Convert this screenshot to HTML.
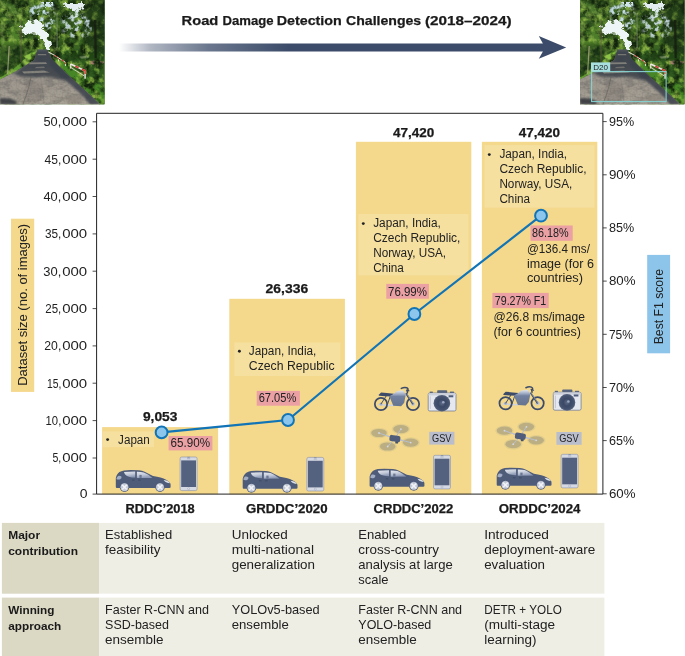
<!DOCTYPE html>
<html><head><meta charset="utf-8"><title>Road Damage Detection Challenges</title>
<style>
html,body{margin:0;padding:0;background:#fff;}
svg{display:block}
text{font-family:"Liberation Sans",sans-serif;fill:#222}
.b{font-weight:bold;fill:#1a1a1a;stroke:#1a1a1a;stroke-width:0.25px}
.b2{font-weight:bold;fill:#1a1a1a}
</style></head><body>
<svg width="685" height="656" viewBox="0 0 685 656">
<defs>
<linearGradient id="ag" gradientUnits="userSpaceOnUse" x1="119" x2="567" y1="0" y2="0">
<stop offset="0" stop-color="#3b4b69" stop-opacity="0"/>
<stop offset="0.07" stop-color="#3b4b69" stop-opacity="0.4"/>
<stop offset="0.2" stop-color="#3b4b69" stop-opacity="0.76"/>
<stop offset="0.38" stop-color="#3b4b69" stop-opacity="1"/>
</linearGradient>

<clipPath id="pc"><rect x="0" y="0" width="104.8" height="104.4"/></clipPath>
<filter id="fDark" x="0" y="0" width="100%" height="100%" color-interpolation-filters="sRGB">
<feTurbulence type="fractalNoise" baseFrequency="0.1" numOctaves="4" seed="7"/>
<feColorMatrix type="matrix" values="0 0 0 0 0.07  0 0 0 0 0.14  0 0 0 0 0.05  0 3.6 0 0 -1.55"/>
<feComposite in2="SourceGraphic" operator="in"/>
</filter>
<filter id="fLight" x="0" y="0" width="100%" height="100%" color-interpolation-filters="sRGB">
<feTurbulence type="fractalNoise" baseFrequency="0.13" numOctaves="4" seed="23"/>
<feColorMatrix type="matrix" values="0 0 0 0 0.58  0 0 0 0 0.74  0 0 0 0 0.28  3.2 0 0 0 -1.6"/>
<feComposite in2="SourceGraphic" operator="in"/>
</filter>
<filter id="fLight2" x="0" y="0" width="100%" height="100%" color-interpolation-filters="sRGB">
<feTurbulence type="fractalNoise" baseFrequency="0.17" numOctaves="3" seed="41"/>
<feColorMatrix type="matrix" values="0 0 0 0 0.62  0 0 0 0 0.74  0 0 0 0 0.36  0 0 3.2 0 -1.55"/>
<feComposite in2="SourceGraphic" operator="in"/>
</filter>
<filter id="fSky" x="-5%" y="-5%" width="110%" height="110%" color-interpolation-filters="sRGB">
<feTurbulence type="fractalNoise" baseFrequency="0.22" numOctaves="3" seed="5" result="t"/>
<feDisplacementMap in="SourceGraphic" in2="t" scale="9" xChannelSelector="R" yChannelSelector="G" result="d"/>
<feGaussianBlur in="d" stdDeviation="0.5"/>
</filter>
<filter id="fMot" x="0" y="0" width="100%" height="100%" color-interpolation-filters="sRGB">
<feTurbulence type="fractalNoise" baseFrequency="0.2" numOctaves="3" seed="9" result="t"/>
<feColorMatrix in="t" type="matrix" values="0 0 0 0 0  0 0 0 0 0  0 0 0 0 0  4.5 0 0 0 -2.1" result="m"/>
<feGaussianBlur in="SourceGraphic" stdDeviation="1.5" result="sb"/>
<feComposite in="sb" in2="m" operator="in"/>
</filter>
<filter id="fRoad" x="0" y="0" width="100%" height="100%" color-interpolation-filters="sRGB">
<feTurbulence type="fractalNoise" baseFrequency="0.09 0.2" numOctaves="3" seed="11"/>
<feColorMatrix type="matrix" values="0 0 0 0 0.16  0 0 0 0 0.17  0 0 0 0 0.19  0 0 3.4 0 -1.45"/>
<feComposite in2="SourceGraphic" operator="in"/>
</filter>
<filter id="fGrain" x="0" y="0" width="100%" height="100%" color-interpolation-filters="sRGB">
<feTurbulence type="fractalNoise" baseFrequency="0.5" numOctaves="2" seed="3"/>
<feColorMatrix type="matrix" values="0 0 0 0 0.25  0 0 0 0 0.25  0 0 0 0 0.25  0 2 0 0 -0.85"/>
<feComposite in2="SourceGraphic" operator="in"/>
</filter>
<filter id="bl1" x="-10%" y="-10%" width="120%" height="120%"><feGaussianBlur stdDeviation="1.2"/></filter>
<filter id="bl2" x="-10%" y="-10%" width="120%" height="120%"><feGaussianBlur stdDeviation="0.6"/></filter>
<linearGradient id="roadg" gradientUnits="userSpaceOnUse" x1="0" x2="0" y1="50" y2="104.5">
<stop offset="0" stop-color="#50565e"/><stop offset="0.2" stop-color="#5e6267"/><stop offset="0.48" stop-color="#9c968d"/><stop offset="1" stop-color="#a8a195"/>
</linearGradient>
<g id="photo" clip-path="url(#pc)">
<rect x="0" y="0" width="104.8" height="104.5" fill="#3a6322"/>
<!-- broad tones -->
<g filter="url(#bl1)">
<path d="M45,12 L60,4 L72,12 L74,30 L66,44 L50,48 L46,36 L40,24 Z" fill="#294a1b" opacity="0.8"/>
<path d="M82,0 H104.5 V52 L88,50 L80,34 L82,16 Z" fill="#20401a" opacity="0.75"/>
<path d="M0,0 H36 L30,12 L22,18 L16,28 L0,30 Z" fill="#2d4f1d" opacity="0.6"/>
<path d="M0,44 L20,40 L34,48 L30,56 L10,70 L0,76 Z" fill="#264819" opacity="0.6"/>
<path d="M27,30 L34,28 L38,40 L38,49 L30,47 Z" fill="#3a5e22" opacity="0.8"/>
<path d="M47,50 L60,50 L104.5,52 V92 L86,76 L66,61 Z" fill="#2c561c" opacity="0.9"/>
<path d="M64,50 L104.5,50 V60 L80,59 Z" fill="#1f4216" opacity="0.8"/>
</g>
<g filter="url(#bl1)"><path d="M0,30 L14,26 L24,34 L30,46 L24,56 L8,62 L0,60 Z" fill="#5f9132" opacity="0.55"/><path d="M4,4 L24,2 L30,10 L18,18 L6,16 Z" fill="#5a8a30" opacity="0.45"/><path d="M50,22 L62,18 L70,28 L66,40 L54,42 Z" fill="#3f6d26" opacity="0.5"/></g>
<!-- grass -->
<path d="M52,58 L70,76 L99,104.5 H104.5 V88 L84,75 L62,60 Z" fill="#478628" filter="url(#bl2)"/>
<path d="M24,59.5 L30,53 L37.6,51 L35.5,59.6 L27,65 L12,73 L0,79.5 V77.4 L11,71.6 Z" fill="#5f9a31" filter="url(#bl2)"/>
<path d="M24,56 L35,52.2 L36,58 L28,62 Z" fill="#8cc445" filter="url(#bl2)"/>
<g filter="url(#bl2)"><ellipse cx="96" cy="62.5" rx="8" ry="2" fill="#c98a8a" opacity="0.75"/><ellipse cx="84" cy="57" rx="5" ry="1.5" fill="#b9c9a0" opacity="0.5"/></g>
<!-- texture -->
<rect x="0" y="0" width="104.5" height="104.5" fill="#000" filter="url(#fDark)"/>
<rect x="0" y="0" width="104.5" height="104.5" fill="#000" filter="url(#fLight)" opacity="0.9"/>
<rect x="0" y="0" width="60" height="80" fill="#000" filter="url(#fLight2)" opacity="0.45"/>
<path d="M84,0 H104.5 V54 L90,52 L83,36 L85,16 Z" fill="#1a3313" opacity="0.45" filter="url(#bl1)"/>
<path d="M0,46 L18,44 L27,50 L23,58 L10,70 L0,75 Z" fill="#183212" opacity="0.5" filter="url(#bl1)"/>
<!-- sky -->
<g filter="url(#fMot)">
<path d="M29,8 L38,3 L54,4 L55,14 L54,26 L48,30 L38,24 L30,22 Z" fill="#c3dae4"/>
<path d="M62,16 L76,12 L90,18 L92,30 L86,38 L70,38 L62,30 Z" fill="#b9cdd0"/>
<path d="M72,2 L82,2 L81,22 L74,22 Z" fill="#dbe8ec"/>
</g>
<g filter="url(#fSky)">
<path d="M21.5,27.5 L25,23 L32,22.5 L37,20 L42,24 L45.5,32 L49.5,42 L50.5,50 L47,50 L43.5,42.5 L39,36 L34.5,33.5 L28,33.5 L22.5,34.5 Z" fill="#eef5f6"/>
<path d="M42,3 H52 L51,7 L45,8 Z" fill="#cfe3ec"/>
<path d="M63,3 H84 L83,8 L76,10 L66,8 Z" fill="#e4eef2"/>
</g>
<!-- trunks -->
<path d="M8.6,46 L9.8,46 L8.2,74 L7,74 Z" fill="#a8a77e" opacity="0.8"/>
<path d="M20.5,20 L21.5,20 L21.6,62 L20.4,62 Z" fill="#5b5a3e" opacity="0.75"/>
<path d="M94,20 L96.4,20 L96.8,58 L94.6,58 Z" fill="#151d10" opacity="0.85"/>
<path d="M56.5,13 L57.5,13 L57.7,48 L56.5,48 Z" fill="#9aa98f" opacity="0.5"/>
<!-- road -->
<path d="M37.4,49.6 L47.2,49.6 L52,59.3 L69,75.7 L85.9,91 L100.5,104.5 H0 V79.5 L18.6,69.8 L34,60 Z" fill="url(#roadg)"/>
<clipPath id="rc"><path d="M37.4,49.6 L47.2,49.6 L52,59.3 L69,75.7 L85.9,91 L100.5,104.5 H0 V79.5 L18.6,69.8 L34,60 Z"/></clipPath>
<g clip-path="url(#rc)">
<rect x="0" y="48" width="104.5" height="57" fill="#000" filter="url(#fRoad)" opacity="0.2"/>
<g filter="url(#bl1)">
<path d="M36,51 L48,51 L56,62 L72,78 L62,80 L50,76.5 L36,77.5 L20,76 L14,74 L24,66 L34,60 Z" fill="#3b414b" opacity="0.82"/>
<path d="M50,58 L56,60 L72,76 L88,90 L101,104.5 H90 L83,96 L72,86 L60,76 L50,66 Z" fill="#393f4a" opacity="0.85"/>
<path d="M0,98 L10,98.5 L16,101 L17,104.5 H0 Z" fill="#33373d" opacity="0.9"/>
<path d="M66,97 L76,93 L84,98 L80,104.5 H68 Z" fill="#8d887e" opacity="0.7"/>
<ellipse cx="34" cy="92" rx="10" ry="11" fill="#76716a" opacity="0.35"/>
</g>
<g filter="url(#bl2)" fill="#9a958a">
<path d="M30,62.6 L46,62.2 L47,64 L29,64.3 Z" opacity="0.7"/>
<path d="M22,71.5 L44,70.6 L50,72.4 L24,73.6 Z" opacity="0.75"/>
<path d="M38,54 L46,54 L46.5,55.2 L37.6,55.2 Z" opacity="0.6"/>
<path d="M36,67 L44,66.6 L45,68 L35,68.3 Z" opacity="0.5"/>
</g>
<path d="M31,77 Q29,88 26,96 Q24,101 23,104.5" stroke="#55524d" stroke-width="0.6" fill="none" opacity="0.75"/>
<path d="M41,80 Q43,92 44,104" stroke="#66625c" stroke-width="0.4" fill="none" opacity="0.6"/>
<rect x="0" y="70" width="104.5" height="35" fill="#000" filter="url(#fGrain)" opacity="0.22"/>
</g>
<!-- fence -->
<g fill="none" stroke-linecap="butt">
<path d="M48.3,52 L54.4,55.2 L65.7,62.5" stroke="#ece6e3" stroke-width="1"/>
<path d="M54.6,55.4 L57,56.9 M61.5,59.8 L64,61.4" stroke="#c83a34" stroke-width="1.1"/>
<path d="M58.5,58 V61.4 M65.5,62.5 V66" stroke="#e9e3e0" stroke-width="0.9"/>
<path d="M58.5,57.8 V59.4 M65.5,62.3 V64" stroke="#c83a34" stroke-width="0.9"/>
<path d="M70.6,64 L85.6,71" stroke="#f0ebe8" stroke-width="1.6"/>
<path d="M75.3,66.2 L78.6,67.7 M81.8,69.2 L85.6,71" stroke="#cf3b34" stroke-width="1.7"/>
<path d="M70.8,67.5 L84.4,76" stroke="#ebe5e2" stroke-width="0.8"/>
<path d="M70.7,64 V68.6" stroke="#f0ebe8" stroke-width="1.1"/>
<path d="M85.1,71 V78.8" stroke="#f0ebe8" stroke-width="1.4"/>
<path d="M85.1,70.6 V74" stroke="#cf3b34" stroke-width="1.4"/>
</g>
</g>

<linearGradient id="tankg" x1="0" x2="0" y1="0" y2="1"><stop offset="0" stop-color="#e2e6ee"/><stop offset="0.22" stop-color="#a3aec6"/><stop offset="0.38" stop-color="#71809f"/><stop offset="1" stop-color="#66748f"/></linearGradient>
<radialGradient id="lensg" cx="0.5" cy="0.5" r="0.5"><stop offset="0" stop-color="#5e6c8a"/><stop offset="0.45" stop-color="#3b4966"/><stop offset="0.8" stop-color="#44526f"/><stop offset="1" stop-color="#56647f"/></radialGradient>
<linearGradient id="wing" x1="0" x2="0.3" y1="0" y2="1"><stop offset="0" stop-color="#e6e9f0"/><stop offset="0.55" stop-color="#c3cad9"/><stop offset="1" stop-color="#8e9ab6"/></linearGradient>
<g id="car">
<path d="M0,16.6 L0,8 Q0.4,6 1.2,4.7 Q2.2,3 3.6,1.9 Q5.4,0.8 8.2,0.3 Q11,0 14.8,0 L23.2,0.2 Q26.4,0.5 28.8,1.6 L37.2,5.9 Q41.5,6.7 44.7,7.5 Q48,8.4 50.3,9.6 Q52.6,10.8 53.8,12.1 Q54.8,13.3 54.8,14.5 L54.8,17.2 Q54.7,18 53.6,18 L1,18 Q0,17.8 0,16.6 Z" fill="#4e5c79"/>
<path d="M8.2,1.9 Q13,1.5 19.4,1.5 L19.4,7.5 Q16,7.4 13.8,6.8 Q10.8,6 9.4,4.4 Q8.4,3.2 8.2,1.9 Z" fill="url(#wing)"/>
<path d="M21.1,1.6 Q25,1.5 27.9,2.3 Q30,3 32.5,4.7 L36.7,7.8 L21.1,7.9 Z" fill="url(#wing)"/>
<path d="M23.6,4.8 h2.3 v3.1 h-2.3 Z" fill="#6b7894"/>
<path d="M0.6,8.8 Q0.9,6.6 2.4,5.8 Q4.4,5.5 5.8,6.6 Q5.9,8.2 4.4,9.2 Q2.2,10 0.6,8.8 Z" fill="#a3aec6"/>
<path d="M47.9,9.9 Q50.8,10 52.8,11.4 Q53.9,12.3 54,13.1 Q51.6,13.2 49.8,12 Q48.4,11 47.9,9.9 Z" fill="#dde1ea"/>
<path d="M16.2,10 h2.6 M22.3,10 h2.6" stroke="#36435f" stroke-width="0.7"/>
<g id="whl"><circle cx="8.7" cy="17.1" r="4.75" fill="#4e5c79"/><circle cx="8.7" cy="17.1" r="3.7" fill="#c3c9d7"/><path d="M6.4,14.8 L11,19.4 M11,14.8 L6.4,19.4" stroke="#f1f3f7" stroke-width="1.5"/><circle cx="8.7" cy="17.1" r="3.7" fill="none" stroke="#dfe3eb" stroke-width="0.5"/></g>
<use href="#whl" x="35.5" y="0"/>
</g>
<g id="phone">
<rect x="0.3" y="0.3" width="17" height="33.6" rx="1.6" fill="#d5d9e3" stroke="#8791ab" stroke-width="0.6"/>
<rect x="1.4" y="3.7" width="14.8" height="26.6" fill="#546280"/>
<circle cx="8.8" cy="32" r="1" fill="#e8eaf0" stroke="#8791ab" stroke-width="0.4"/>
<path d="M7.2,2 h3.2" stroke="#8791ab" stroke-width="0.5"/>
<path d="M7.6,0.6 h2.4" stroke="#6f7b98" stroke-width="0.6"/>
</g>
<g id="moto">
<path d="M22.6,404.2 L30,404.6 L37.6,404.9" stroke="#cdd2dc" stroke-width="1.5" fill="none" stroke-linecap="round"/>
<circle cx="25.1" cy="403.5" r="6.15" fill="none" stroke="#3d4b69" stroke-width="1.75"/>
<circle cx="57.1" cy="403.5" r="6.15" fill="none" stroke="#3d4b69" stroke-width="1.75"/>
<circle cx="25.1" cy="403.5" r="1.5" fill="#a3acc2"/><circle cx="57.1" cy="403.5" r="2.1" fill="#c3c9d6"/><circle cx="57.1" cy="403.5" r="0.8" fill="#7885a1"/>
<path d="M30.6,395 L25.1,403.5 M34.4,395.6 L31.4,404.4" stroke="#43516e" stroke-width="1" fill="none"/>
<path d="M50,392.8 L57.1,403.5" stroke="#3d4b69" stroke-width="1.7" fill="none"/>
<path d="M50.9,393.4 L57.3,403.1" stroke="#cdd2dc" stroke-width="0.5" fill="none"/>
<path d="M22.6,394.4 L25.2,392 Q30,392.2 37.9,393.2 L37.2,395.9 L29.6,395.8 L23.3,395.3 Z" fill="#3d4b69"/>
<path d="M33.4,395.7 L37.6,393.4 L40.8,390.7 Q44.5,389.8 47.6,390.3 L49.9,394.1 L48.3,402.2 L45.2,405.7 L37.4,405.3 Z" fill="url(#tankg)"/>
<path d="M45.4,387.9 Q48.4,386.5 50.8,387.3 Q52.8,388.2 51.8,389.8 Q50.8,390.9 51.6,392.4" stroke="#3d4b69" stroke-width="1.5" fill="none" stroke-linecap="round"/>
<path d="M50.6,389.6 L53,390.4" stroke="#3d4b69" stroke-width="1.2" stroke-linecap="round"/>
</g>
<g id="cam">
<rect x="81.3" y="389.8" width="10" height="3.4" rx="0.8" fill="#56647f"/>
<rect x="73.9" y="391.2" width="3" height="2" fill="#56647f"/><rect x="94" y="391.2" width="4" height="2" fill="#56647f"/>
<rect x="72.3" y="392.6" width="27.8" height="18" rx="1.6" fill="#e6e8ef" stroke="#64718e" stroke-width="0.7"/>
<path d="M72.6,395.2 H99.8 V394 Q99.8,392.9 98.6,392.9 H73.8 Q72.6,392.9 72.6,394 Z" fill="#cdd1dc"/>
<path d="M74.4,396 V408.5" stroke="#c3c8d5" stroke-width="1"/>
<rect x="92.7" y="394.9" width="4.7" height="2" fill="#4f5d7a"/>
<circle cx="86" cy="402.8" r="8.3" fill="url(#lensg)"/>
<circle cx="87.4" cy="401.9" r="1.3" fill="#9aa5be"/>
</g>
<g id="drone">
<g stroke="#aeb6cb" stroke-width="1" fill="none"><path d="M23.1,433 L39,438.5 L45,429.1 M31.8,446.5 L39,438.5 L54.8,442.6"/></g>
<g fill="#d5c68c" opacity="0.55"><ellipse cx="23.1" cy="433" rx="9.2" ry="5.3"/><ellipse cx="45" cy="429.1" rx="9.2" ry="5.3"/><ellipse cx="54.8" cy="442.6" rx="9.2" ry="5.3"/><ellipse cx="31.8" cy="446.5" rx="9.2" ry="5.3"/></g>
<g fill="#b5a981" opacity="0.85"><ellipse cx="23.1" cy="433" rx="7.8" ry="4.1"/><ellipse cx="45" cy="429.1" rx="7.8" ry="4.1"/><ellipse cx="54.8" cy="442.6" rx="7.8" ry="4.1"/><ellipse cx="31.8" cy="446.5" rx="7.8" ry="4.1"/></g>
<g stroke="#b9c0d2" stroke-width="0.9" fill="none"><path d="M23.1,433 L34,436.8 M45,429.1 L41.5,434.6 M31.8,446.5 L36,441.8 M54.8,442.6 L44,439.8"/></g>
<g fill="#d3d8e4"><circle cx="23.1" cy="433" r="0.9"/><circle cx="45" cy="429.1" r="0.9"/><circle cx="54.8" cy="442.6" r="0.9"/><circle cx="31.8" cy="446.5" r="0.9"/></g>
<rect x="39.4" y="441" width="2.8" height="2.6" rx="0.6" fill="#44526f"/>
<rect x="33.6" y="435.4" width="10.8" height="6.2" rx="1.8" fill="#4f5d7a" transform="rotate(9 39 438.5)"/>
</g>

</defs>
<rect width="685" height="656" fill="#fff"/>
<use href="#photo" x="0" y="0"/>
<use href="#photo" x="580" y="0"/>
<rect x="591.6" y="71.6" width="74.5" height="30" fill="none" stroke="#86d0d0" stroke-width="1.1"/>
<rect x="591" y="62.4" width="19.2" height="9.2" fill="#a8e0e0"/>
<text x="593.3" y="69.8" font-size="7.6" fill="#3f9097" textLength="14.8" lengthAdjust="spacingAndGlyphs">D20</text>
<text y="25.2" font-size="13.5" class="b"><tspan x="181.6" textLength="36.7" lengthAdjust="spacingAndGlyphs">Road</tspan> <tspan x="222.5" textLength="51" lengthAdjust="spacingAndGlyphs">Damage</tspan> <tspan x="276.7" textLength="65.1" lengthAdjust="spacingAndGlyphs">Detection</tspan> <tspan x="346" textLength="75.2" lengthAdjust="spacingAndGlyphs">Challenges</tspan> <tspan x="424.9" textLength="86.7" lengthAdjust="spacingAndGlyphs">(2018–2024)</tspan></text>
<path d="M119,43.6 H542.9 L538.8,36.1 L566.2,47.45 L538.8,58.8 L542.9,51.5 H119 Z" fill="url(#ag)"/>
<g fill="#f4d88b"><rect x="102.1" y="427.1" width="116" height="67"/><rect x="229.3" y="298.8" width="115.6" height="195.5"/><rect x="355.9" y="141.8" width="115.4" height="352.5"/><rect x="481.9" y="141.8" width="115.4" height="352.5"/></g>
<g fill="#f6e0a0"><rect x="102.5" y="431.4" width="51.5" height="15.8"/><rect x="234.3" y="342.4" width="106" height="33.7"/><rect x="358.3" y="213.9" width="110.2" height="61.5"/><rect x="484.5" y="145.1" width="110" height="62.6"/></g>
<g stroke="#222" stroke-width="1" fill="none">
<path d="M96.6,494.1 V113.3 H602.9 V494.1 Z"/>
<path d="M92.6,121.8 H96.6" stroke-width="0.8"/>
<path d="M92.6,159.2 H96.6" stroke-width="0.8"/>
<path d="M92.6,196.5 H96.6" stroke-width="0.8"/>
<path d="M92.6,233.9 H96.6" stroke-width="0.8"/>
<path d="M92.6,271.2 H96.6" stroke-width="0.8"/>
<path d="M92.6,308.6 H96.6" stroke-width="0.8"/>
<path d="M92.6,345.9 H96.6" stroke-width="0.8"/>
<path d="M92.6,383.2 H96.6" stroke-width="0.8"/>
<path d="M92.6,420.6 H96.6" stroke-width="0.8"/>
<path d="M92.6,458.0 H96.6" stroke-width="0.8"/>
<path d="M92.6,494.1 H96.6" stroke-width="0.8"/>
<path d="M602.9,121.6 H606.7" stroke-width="0.8"/>
<path d="M602.9,174.8 H606.7" stroke-width="0.8"/>
<path d="M602.9,227.9 H606.7" stroke-width="0.8"/>
<path d="M602.9,281.1 H606.7" stroke-width="0.8"/>
<path d="M602.9,334.3 H606.7" stroke-width="0.8"/>
<path d="M602.9,387.5 H606.7" stroke-width="0.8"/>
<path d="M602.9,440.6 H606.7" stroke-width="0.8"/>
<path d="M602.9,493.8 H606.7" stroke-width="0.8"/>
</g>
<text y="126.1" font-size="12"><tspan x="61.3" text-anchor="end" textLength="17.8" lengthAdjust="spacingAndGlyphs">50,</tspan><tspan x="62.2" textLength="25" lengthAdjust="spacingAndGlyphs">000</tspan></text>
<text y="163.5" font-size="12"><tspan x="61.3" text-anchor="end" textLength="16.8" lengthAdjust="spacingAndGlyphs">45,</tspan><tspan x="62.2" textLength="25" lengthAdjust="spacingAndGlyphs">000</tspan></text>
<text y="200.8" font-size="12"><tspan x="61.3" text-anchor="end" textLength="17.8" lengthAdjust="spacingAndGlyphs">40,</tspan><tspan x="62.2" textLength="25" lengthAdjust="spacingAndGlyphs">000</tspan></text>
<text y="238.2" font-size="12"><tspan x="61.3" text-anchor="end" textLength="16.4" lengthAdjust="spacingAndGlyphs">35,</tspan><tspan x="62.2" textLength="25" lengthAdjust="spacingAndGlyphs">000</tspan></text>
<text y="275.5" font-size="12"><tspan x="61.3" text-anchor="end" textLength="18.0" lengthAdjust="spacingAndGlyphs">30,</tspan><tspan x="62.2" textLength="25" lengthAdjust="spacingAndGlyphs">000</tspan></text>
<text y="312.9" font-size="12"><tspan x="61.3" text-anchor="end" textLength="16.0" lengthAdjust="spacingAndGlyphs">25,</tspan><tspan x="62.2" textLength="25" lengthAdjust="spacingAndGlyphs">000</tspan></text>
<text y="350.2" font-size="12"><tspan x="61.3" text-anchor="end" textLength="17.0" lengthAdjust="spacingAndGlyphs">20,</tspan><tspan x="62.2" textLength="25" lengthAdjust="spacingAndGlyphs">000</tspan></text>
<text y="387.6" font-size="12"><tspan x="61.3" text-anchor="end" textLength="14.4" lengthAdjust="spacingAndGlyphs">15,</tspan><tspan x="62.2" textLength="25" lengthAdjust="spacingAndGlyphs">000</tspan></text>
<text y="424.9" font-size="12"><tspan x="61.3" text-anchor="end" textLength="15.7" lengthAdjust="spacingAndGlyphs">10,</tspan><tspan x="62.2" textLength="25" lengthAdjust="spacingAndGlyphs">000</tspan></text>
<text y="462.3" font-size="12"><tspan x="61.3" text-anchor="end" textLength="8.8" lengthAdjust="spacingAndGlyphs">5,</tspan><tspan x="62.2" textLength="25" lengthAdjust="spacingAndGlyphs">000</tspan></text>
<text x="79.8" y="498.1" font-size="12" textLength="7.8" lengthAdjust="spacingAndGlyphs">0</text>
<text x="608.9" y="125.9" font-size="12" textLength="25.2" lengthAdjust="spacingAndGlyphs">95%</text>
<text x="608.9" y="179.1" font-size="12" textLength="26.6" lengthAdjust="spacingAndGlyphs">90%</text>
<text x="608.9" y="232.2" font-size="12" textLength="25.2" lengthAdjust="spacingAndGlyphs">85%</text>
<text x="608.9" y="285.4" font-size="12" textLength="26.6" lengthAdjust="spacingAndGlyphs">80%</text>
<text x="608.9" y="338.6" font-size="12" textLength="24" lengthAdjust="spacingAndGlyphs">75%</text>
<text x="608.9" y="391.8" font-size="12" textLength="25.4" lengthAdjust="spacingAndGlyphs">70%</text>
<text x="608.9" y="444.9" font-size="12" textLength="25.2" lengthAdjust="spacingAndGlyphs">65%</text>
<text x="608.9" y="498.1" font-size="12" textLength="26.6" lengthAdjust="spacingAndGlyphs">60%</text>
<rect x="11" y="218.7" width="23.2" height="173.2" fill="#f4d88b"/>
<text x="0" y="0" font-size="13" textLength="161.9" lengthAdjust="spacingAndGlyphs" transform="translate(26.9,385.8) rotate(-90)">Dataset size (no. of images)</text>
<rect x="647.2" y="254.9" width="22.9" height="98.4" fill="#8cc4ea"/>
<text x="0" y="0" font-size="12.7" textLength="75.3" lengthAdjust="spacingAndGlyphs" transform="translate(663.2,344.3) rotate(-90)">Best F1 score</text>
<text x="160.2" y="420.5" font-size="12" class="b" text-anchor="middle" textLength="34.5" lengthAdjust="spacingAndGlyphs">9,053</text>
<text x="286.9" y="292.8" font-size="12" class="b" text-anchor="middle" textLength="42.6" lengthAdjust="spacingAndGlyphs">26,336</text>
<text x="413.6" y="137.2" font-size="12" class="b" text-anchor="middle" textLength="41.2" lengthAdjust="spacingAndGlyphs">47,420</text>
<text x="539.4" y="137.2" font-size="12" class="b" text-anchor="middle" textLength="41.2" lengthAdjust="spacingAndGlyphs">47,420</text>
<circle cx="107.6" cy="439.6" r="1.45" fill="#222"/>
<text x="118.1" y="443.9" font-size="12" textLength="31.7" lengthAdjust="spacingAndGlyphs">Japan</text>
<circle cx="239.4" cy="351.3" r="1.45" fill="#222"/>
<text x="248.8" y="354.9" font-size="12" textLength="67.6" lengthAdjust="spacingAndGlyphs">Japan, India,</text>
<text x="248.8" y="369.7" font-size="12" textLength="85.8" lengthAdjust="spacingAndGlyphs">Czech Republic</text>
<circle cx="363.3" cy="223.6" r="1.45" fill="#222"/>
<text x="373.2" y="227.2" font-size="12" textLength="67.6" lengthAdjust="spacingAndGlyphs">Japan, India,</text>
<text x="373.2" y="242.1" font-size="12" textLength="87.2" lengthAdjust="spacingAndGlyphs">Czech Republic,</text>
<text x="373.2" y="257.1" font-size="12" textLength="72.9" lengthAdjust="spacingAndGlyphs">Norway, USA,</text>
<text x="373.2" y="272.0" font-size="12" textLength="30.7" lengthAdjust="spacingAndGlyphs">China</text>
<circle cx="489.3" cy="154.6" r="1.45" fill="#222"/>
<text x="499.4" y="158.2" font-size="12" textLength="67.6" lengthAdjust="spacingAndGlyphs">Japan, India,</text>
<text x="499.4" y="173.1" font-size="12" textLength="87.2" lengthAdjust="spacingAndGlyphs">Czech Republic,</text>
<text x="499.4" y="187.9" font-size="12" textLength="72.9" lengthAdjust="spacingAndGlyphs">Norway, USA,</text>
<text x="499.4" y="202.8" font-size="12" textLength="30.7" lengthAdjust="spacingAndGlyphs">China</text>
<polyline points="161.6,432.4 288,420 414.4,314 541,215.7" fill="none" stroke="#1174b7" stroke-width="2.2"/>
<circle cx="161.6" cy="432.4" r="5.9" fill="#8cc6ec" stroke="#1174b7" stroke-width="2"/>
<circle cx="288" cy="420" r="5.9" fill="#8cc6ec" stroke="#1174b7" stroke-width="2"/>
<circle cx="414.4" cy="314" r="5.9" fill="#8cc6ec" stroke="#1174b7" stroke-width="2"/>
<circle cx="541" cy="215.7" r="5.9" fill="#8cc6ec" stroke="#1174b7" stroke-width="2"/>
<g fill="#eba0a4"><rect x="168.6" y="436" width="43.8" height="14.4"/><rect x="256.7" y="390.9" width="43.2" height="14.8"/><rect x="386.3" y="283.9" width="42.6" height="14.8"/><rect x="530.5" y="225.5" width="42.2" height="15.3"/><rect x="492.4" y="292.9" width="56.3" height="15.2"/></g>
<text x="170.6" y="447.3" font-size="12" fill="#3a2f3a" textLength="39.5" lengthAdjust="spacingAndGlyphs">65.90%</text>
<text x="258.7" y="401.8" font-size="12" fill="#3a2f3a" textLength="37.6" lengthAdjust="spacingAndGlyphs">67.05%</text>
<text x="388" y="295.6" font-size="12" fill="#3a2f3a" textLength="38.9" lengthAdjust="spacingAndGlyphs">76.99%</text>
<text x="532.1" y="236.8" font-size="12" fill="#3a2f3a" textLength="36.6" lengthAdjust="spacingAndGlyphs">86.18%</text>
<text x="526.9" y="253" font-size="12" textLength="63" lengthAdjust="spacingAndGlyphs">@136.4 ms/</text>
<text x="526.9" y="267.9" font-size="12" textLength="67" lengthAdjust="spacingAndGlyphs">image (for 6</text>
<text x="526.9" y="282.4" font-size="12" textLength="56.1" lengthAdjust="spacingAndGlyphs">countries)</text>
<text x="494.8" y="305.2" font-size="12" fill="#3a2f3a" textLength="51.5" lengthAdjust="spacingAndGlyphs">79.27% F1</text>
<text x="493.4" y="321" font-size="12" textLength="91.6" lengthAdjust="spacingAndGlyphs">@26.8 ms/image</text>
<text x="493.4" y="335.5" font-size="12" textLength="87.6" lengthAdjust="spacingAndGlyphs">(for 6 countries)</text>
<use href="#car" x="115.8" y="470.1"/>
<use href="#phone" x="179.8" y="456.7"/>
<use href="#car" x="242.7" y="470.8"/>
<use href="#phone" x="306.5" y="457.1"/>
<use href="#car" x="369.6" y="468.8"/>
<use href="#phone" x="433.2" y="455"/>
<use href="#car" x="496.7" y="467.8"/>
<use href="#phone" x="560.8" y="454"/>
<use href="#moto" x="355.9" y="0.5"/>
<use href="#cam" x="355.9" y="0.4"/>
<use href="#drone" x="355.9" y="0"/>
<rect x="429.2" y="431.8" width="25.2" height="12.8" fill="#b9bdcc"/>
<text x="432.0" y="441.6" font-size="10" fill="#2a2a2a" textLength="19.5" lengthAdjust="spacingAndGlyphs">GSV</text>
<use href="#moto" x="480.5" y="-0.2"/>
<use href="#cam" x="481.0" y="-0.4"/>
<use href="#drone" x="481.4" y="-2.3"/>
<rect x="556.4" y="432.0" width="25.2" height="12.8" fill="#b9bdcc"/>
<text x="559.2" y="441.8" font-size="10" fill="#2a2a2a" textLength="19.5" lengthAdjust="spacingAndGlyphs">GSV</text>
<text x="160.1" y="512.7" font-size="12" class="b" text-anchor="middle" textLength="69.1" lengthAdjust="spacingAndGlyphs">RDDC’2018</text>
<text x="286.7" y="512.7" font-size="12" class="b" text-anchor="middle" textLength="81.6" lengthAdjust="spacingAndGlyphs">GRDDC’2020</text>
<text x="413.4" y="512.7" font-size="12" class="b" text-anchor="middle" textLength="79.7" lengthAdjust="spacingAndGlyphs">CRDDC’2022</text>
<text x="539.6" y="512.7" font-size="12" class="b" text-anchor="middle" textLength="81.6" lengthAdjust="spacingAndGlyphs">ORDDC’2024</text>
<rect x="1.9" y="522.9" width="97.2" height="70.8" fill="#dbd8c4"/><rect x="99.1" y="522.9" width="505.3" height="70.8" fill="#efeee5"/>
<rect x="1.9" y="597.6" width="97.2" height="58.4" fill="#dbd8c4"/><rect x="99.1" y="597.6" width="505.3" height="58.4" fill="#efeee5"/>
<text x="8.2" y="538.8" font-size="11.8" class="b2" textLength="31.9" lengthAdjust="spacingAndGlyphs">Major</text>
<text x="8.2" y="554.6" font-size="11.8" class="b2" textLength="69.8" lengthAdjust="spacingAndGlyphs">contribution</text>
<text x="8.2" y="613.9" font-size="11.8" class="b2" textLength="46.3" lengthAdjust="spacingAndGlyphs">Winning</text>
<text x="8.2" y="629.7" font-size="11.8" class="b2" textLength="53.1" lengthAdjust="spacingAndGlyphs">approach</text>
<text x="105.1" y="539.3" font-size="13" fill="#2a2a2a" textLength="67.2" lengthAdjust="spacingAndGlyphs">Established</text>
<text x="105.1" y="554.3" font-size="13" fill="#2a2a2a" textLength="55.4" lengthAdjust="spacingAndGlyphs">feasibility</text>
<text x="231.7" y="539.3" font-size="13" fill="#2a2a2a" textLength="56.1" lengthAdjust="spacingAndGlyphs">Unlocked</text>
<text x="231.7" y="554.3" font-size="13" fill="#2a2a2a" textLength="82.3" lengthAdjust="spacingAndGlyphs">multi-national</text>
<text x="231.7" y="569.4" font-size="13" fill="#2a2a2a" textLength="83.3" lengthAdjust="spacingAndGlyphs">generalization</text>
<text x="358.3" y="539.3" font-size="13" fill="#2a2a2a" textLength="48" lengthAdjust="spacingAndGlyphs">Enabled</text>
<text x="358.3" y="554.3" font-size="13" fill="#2a2a2a" textLength="80.6" lengthAdjust="spacingAndGlyphs">cross-country</text>
<text x="358.3" y="569.4" font-size="13" fill="#2a2a2a" textLength="94.4" lengthAdjust="spacingAndGlyphs">analysis at large</text>
<text x="358.3" y="584.4" font-size="13" fill="#2a2a2a" textLength="30.2" lengthAdjust="spacingAndGlyphs">scale</text>
<text x="484.2" y="539.3" font-size="13" fill="#2a2a2a" textLength="64.8" lengthAdjust="spacingAndGlyphs">Introduced</text>
<text x="484.2" y="554.3" font-size="13" fill="#2a2a2a" textLength="111.2" lengthAdjust="spacingAndGlyphs">deployment-aware</text>
<text x="484.2" y="569.4" font-size="13" fill="#2a2a2a" textLength="60.8" lengthAdjust="spacingAndGlyphs">evaluation</text>
<text x="105.1" y="614.2" font-size="13" fill="#2a2a2a" textLength="103.8" lengthAdjust="spacingAndGlyphs">Faster R-CNN and</text>
<text x="105.1" y="629.2" font-size="13" fill="#2a2a2a" textLength="63.8" lengthAdjust="spacingAndGlyphs">SSD-based</text>
<text x="105.1" y="644.3" font-size="13" fill="#2a2a2a" textLength="58.4" lengthAdjust="spacingAndGlyphs">ensemble</text>
<text x="231.7" y="614.2" font-size="13" fill="#2a2a2a" textLength="88" lengthAdjust="spacingAndGlyphs">YOLOv5-based</text>
<text x="231.7" y="629.2" font-size="13" fill="#2a2a2a" textLength="57.1" lengthAdjust="spacingAndGlyphs">ensemble</text>
<text x="358.3" y="614.2" font-size="13" fill="#2a2a2a" textLength="103.8" lengthAdjust="spacingAndGlyphs">Faster R-CNN and</text>
<text x="358.3" y="629.2" font-size="13" fill="#2a2a2a" textLength="73" lengthAdjust="spacingAndGlyphs">YOLO-based</text>
<text x="358.3" y="644.3" font-size="13" fill="#2a2a2a" textLength="58.4" lengthAdjust="spacingAndGlyphs">ensemble</text>
<text x="484.2" y="614.2" font-size="13" fill="#2a2a2a" textLength="77.6" lengthAdjust="spacingAndGlyphs">DETR + YOLO</text>
<text x="484.2" y="629.2" font-size="13" fill="#2a2a2a" textLength="70.9" lengthAdjust="spacingAndGlyphs">(multi-stage</text>
<text x="484.2" y="644.3" font-size="13" fill="#2a2a2a" textLength="52.4" lengthAdjust="spacingAndGlyphs">learning)</text>
</svg>
</body></html>
